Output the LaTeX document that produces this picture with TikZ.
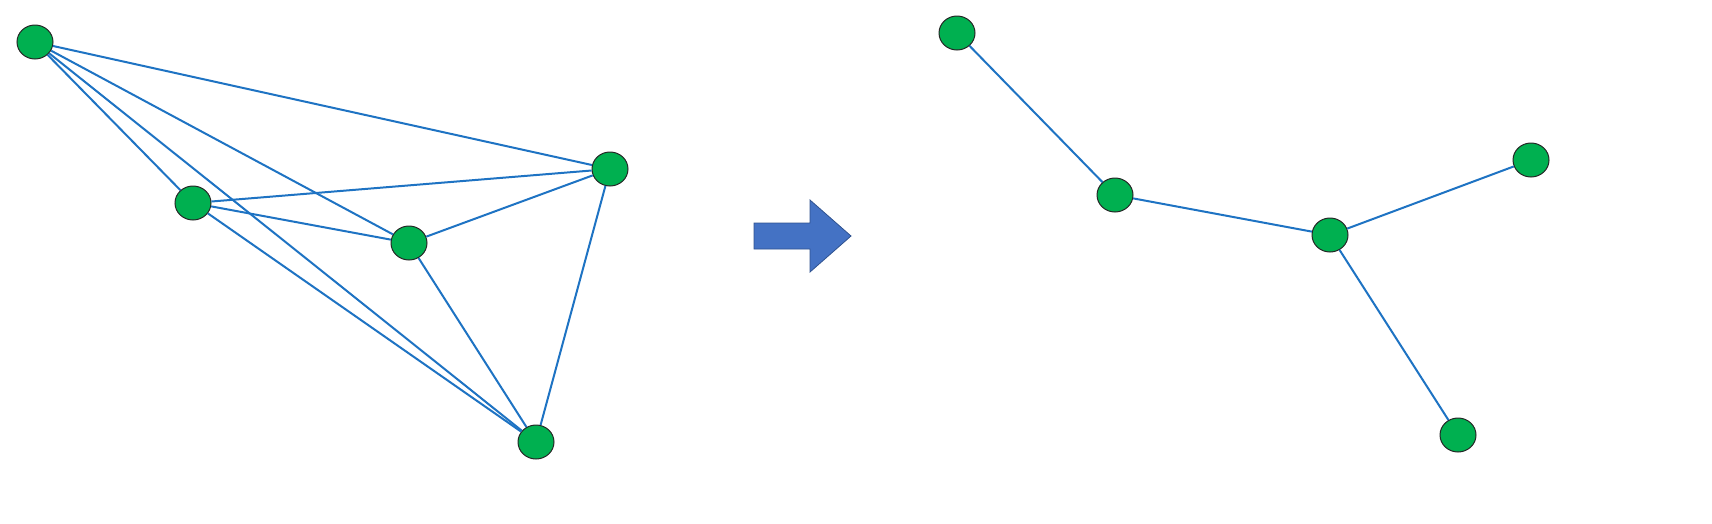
\documentclass[tikz,border=0pt]{standalone}
\usetikzlibrary{shapes.geometric}
\begin{document}
\begin{tikzpicture}[x=1pt,y=-1pt,
  vtx/.style={ellipse,draw=black!85,line width=1pt,fill={rgb,255:red,0;green,176;blue,80},minimum width=36pt,minimum height=34pt,inner sep=0pt},
  edge/.style={draw={rgb,255:red,30;green,115;blue,195},line width=2pt}]
\useasboundingbox (0,0) rectangle (1712,523);
\node[vtx] (A) at (35,42) {};
\node[vtx] (B) at (193,203) {};
\node[vtx] (C) at (409,243) {};
\node[vtx] (D) at (610,169) {};
\node[vtx] (E) at (536,442) {};
\foreach \a/\b in {A/D,A/B,A/C,A/E,B/D,B/C,B/E,C/D,C/E,D/E}
  \path[edge] (\a) -- (\b);
\node[vtx] (F) at (957,33) {};
\node[vtx] (G) at (1115,195) {};
\node[vtx] (H) at (1330,235) {};
\node[vtx] (I) at (1531,160) {};
\node[vtx] (J) at (1458,435) {};
\foreach \a/\b in {F/G,G/H,H/I,H/J}
  \path[edge] (\a) -- (\b);
\filldraw[fill={rgb,255:red,68;green,114;blue,196},draw={rgb,255:red,47;green,82;blue,143},line width=0.8pt]
  (754,223) -- (810,223) -- (810,200) -- (851,236) -- (810,272) -- (810,249) -- (754,249) -- cycle;
\end{tikzpicture}
\end{document}
